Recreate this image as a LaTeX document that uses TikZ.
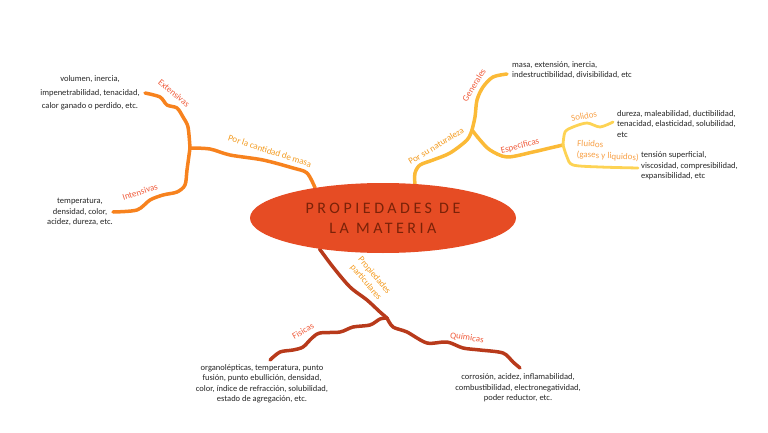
\documentclass[tikz,border=0pt]{standalone}
\usepackage{fontspec}
\setmainfont{Carlito}
\newfontfamily\titlefont[LetterSpace=22]{Carlito}
\usepackage{xcolor}
\usepackage{tikz}
\usetikzlibrary{shapes,positioning,calc,backgrounds}

\definecolor{ovalfill}{HTML}{E64C24}
\definecolor{ovaltext}{HTML}{7A2208}
\definecolor{masabranch}{HTML}{F7821E}
\definecolor{natbranch}{HTML}{FBBA37}
\definecolor{estbranch}{HTML}{FDD354}
\definecolor{partbranch}{HTML}{B83A1B}
\definecolor{maincol}{HTML}{F39A1E}
\definecolor{subcol}{HTML}{EF5B3B}
\definecolor{lightcol}{HTML}{F7A046}

\begin{document}
\begin{tikzpicture}[x=1pt,y=-1pt,
    branch/.style={line width=3.5pt, line cap=round, line join=round},
    twig/.style={line width=2.8pt, line cap=round, line join=round},
    lbl/.style={font=\fontsize{9}{11}\selectfont, inner sep=1pt},
    info/.style={font=\fontsize{8.5}{10.5}\selectfont, align=center, text=black!85, inner sep=1pt}]
    \useasboundingbox (0,0) rectangle (768,433);

    % central oval
    \node[ellipse, fill=ovalfill, minimum width=266pt, minimum height=70pt, align=center,
          text=ovaltext, font=\titlefont\fontsize{16}{20}\selectfont] (title) at (383,218) {PROPIEDADES DE\\LA MATERIA};

    % hubs and branch ends
    \coordinate (hubM) at (190,148);
    \coordinate (extEnd) at (145,93);
    \coordinate (intEnd) at (113,212);
    \coordinate (hubN) at (472,130);
    \coordinate (genEnd) at (507,74);
    \coordinate (hubE) at (563,145);
    \coordinate (solEnd) at (613,122);
    \coordinate (fluEnd) at (638,168);
    \coordinate (hubP) at (387,318);
    \coordinate (fisEnd) at (270,360);
    \coordinate (quiEnd) at (520,368);

    \begin{scope}[on background layer]
    % por la cantidad de masa
    \draw[branch, masabranch] plot[smooth, tension=0.5] coordinates {(title.156) (307,173) (293,168) (263,160) (230,155) (210,149) (hubM)};
    \draw[branch, masabranch] plot[smooth, tension=0.5] coordinates {(hubM) (188,127) (183,117) (177,108) (167,105) (160,97) (extEnd)};
    \draw[branch, masabranch] plot[smooth, tension=0.5] coordinates {(hubM) (187,170) (185,185) (177,192) (163,195) (150,200) (137,210) (intEnd)};
    % por su naturaleza
    \draw[branch, natbranch] plot[smooth, tension=0.5] coordinates {(title.47) (415,173) (420,165) (433,160) (450,153) (467,140) (hubN)};
    \draw[branch, natbranch] plot[smooth, tension=0.5] coordinates {(hubN) (475,117) (477,100) (483,87) (493,77) (genEnd)};
    \draw[branch, natbranch] plot[smooth, tension=0.5] coordinates {(hubN) (480,140) (490,150) (507,157) (533,152) (550,148) (hubE)};
    \draw[twig, estbranch] plot[smooth, tension=0.5] coordinates {(hubE) (565,132) (573,127) (587,123) (600,127) (solEnd)};
    \draw[twig, estbranch] plot[smooth, tension=0.5] coordinates {(hubE) (567,157) (573,165) (600,167) (fluEnd)};
    % propiedades particulares
    \draw[branch, partbranch] plot[smooth, tension=0.5] coordinates {(title.206) (333,267) (350,287) (367,300) (380,312) (hubP)};
    \draw[branch, partbranch] plot[smooth, tension=0.5] coordinates {(hubP) (380,319) (370,325) (353,327) (340,332) (320,333) (312,338) (303,347) (293,350) (280,352) (fisEnd)};
    \draw[branch, partbranch] plot[smooth, tension=0.5] coordinates {(hubP) (393,327) (407,332) (427,343) (447,342) (463,348) (480,350) (503,353) (513,362) (quiEnd)};
    \end{scope}

    % branch labels
    \node[lbl, text=maincol, rotate=-18] (masaLbl) at (270,151) {Por la cantidad de masa};
    \node[lbl, text=subcol, rotate=-40] (extLbl) at (174,93) {Extensivas};
    \node[lbl, text=subcol, rotate=18] (intLbl) at (140,192) {Intensivas};
    \node[lbl, text=maincol, rotate=31] (natLbl) at (436,146) {Por su naturaleza};
    \node[lbl, text=subcol, rotate=58] (genLbl) at (474,85) {Generales};
    \node[lbl, text=subcol, rotate=14] (espLbl) at (520,146) {Especificas};
    \node[lbl, text=lightcol, rotate=12] (solLbl) at (584,116) {Solidos};
    \node[lbl, text=lightcol, align=left, rotate=-3] (fluLbl) at (608,151) {Fluidos\\(gases y liquidos)};
    \node[lbl, text=maincol, align=center, rotate=-50] (partLbl) at (370,279) {Propiedades\\particulares};
    \node[lbl, text=subcol, rotate=30] (fisLbl) at (303,331) {Fisicas};
    \node[lbl, text=subcol, rotate=-8] (quiLbl) at (467,338) {Químicas};

    % examples
    \node[info, font=\fontsize{8.5}{13.5}\selectfont] (extInfo) at (90,93) {volumen, inercia,\\impenetrabilidad, tenacidad,\\calor ganado o perdido, etc.};
    \node[info] (intInfo) at (80,212) {temperatura,\\densidad, color,\\acidez, dureza, etc.};
    \node[info, align=left, anchor=west] (genInfo) at (511,70) {masa, extensión, inercia,\\indestructibilidad, divisibilidad, etc};
    \node[info, align=left, anchor=west] (solInfo) at (616,124) {dureza, maleabilidad, ductibilidad,\\tenacidad, elasticidad, solubilidad,\\etc};
    \node[info, align=left, anchor=west] (fluInfo) at (640,166) {tensión superficial,\\viscosidad, compresibilidad,\\expansibilidad, etc};
    \node[info] (fisInfo) at (262,384) {organolépticas, temperatura, punto\\fusión, punto ebullición, densidad,\\color, índice de refracción, solubilidad,\\estado de agregación, etc.};
    \node[info] (quiInfo) at (518,388) {corrosión, acidez, inflamabilidad,\\combustibilidad, electronegatividad,\\poder reductor, etc.};
\end{tikzpicture}
\end{document}
